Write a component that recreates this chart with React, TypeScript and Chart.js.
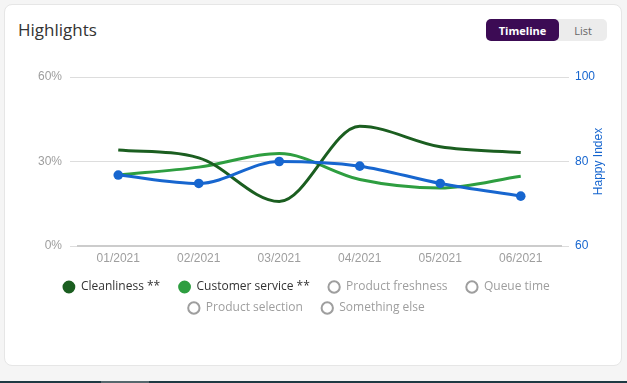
import React, { useEffect, useRef } from "react";
import { Chart, registerables } from "chart.js";

Chart.register(...registerables);

const months = ["01/2021", "02/2021", "03/2021", "04/2021", "05/2021", "06/2021"];
const cleanliness = [34.1, 31.3, 15.8, 42.5, 35.2, 33.2];
const customerService = [25.2, 28.0, 32.8, 23.6, 20.6, 24.8];
const happyIndex = [76.8, 74.8, 80.0, 78.9, 74.8, 71.8];
const hiddenSeries = ["Product freshness", "Queue time", "Product selection", "Something else"];
const leftRange = [0, 60];
const leftStep = 30;
const rightRange = [60, 100];
const rightStep = 20;

const DARK_GREEN = "#1b5e20";
const GREEN = "#2e9e40";
const BLUE = "#1766cf";
const GRAY_TXT = "#9e9e9e";

const rightTitlePlugin = {
  id: "rightTitle",
  afterDraw(chart: any) {
    const s = chart.scales.y1;
    const { ctx, chartArea } = chart;
    ctx.save();
    ctx.translate(s.right - 12, (chartArea.top + chartArea.bottom) / 2);
    ctx.rotate(-Math.PI / 2);
    ctx.font = '12px "Liberation Sans", Arial, sans-serif';
    ctx.fillStyle = BLUE;
    ctx.textAlign = "center";
    ctx.textBaseline = "middle";
    ctx.fillText("Happy Index", 0, 0);
    ctx.restore();
  },
};

function HighlightsChart() {
  const ref = useRef<HTMLCanvasElement | null>(null);
  useEffect(() => {
    if (!ref.current) return;
    const datasets: any[] = [
      {
        label: "Cleanliness **",
        data: cleanliness,
        borderColor: DARK_GREEN,
        backgroundColor: DARK_GREEN,
        borderWidth: 3,
        pointRadius: 0,
        cubicInterpolationMode: "monotone",
        yAxisID: "y",
      },
      {
        label: "Customer service **",
        data: customerService,
        borderColor: GREEN,
        backgroundColor: GREEN,
        borderWidth: 3,
        pointRadius: 0,
        cubicInterpolationMode: "monotone",
        yAxisID: "y",
      },
      ...hiddenSeries.map((name) => ({
        label: name,
        data: [],
        hidden: true,
        borderColor: GRAY_TXT,
        yAxisID: "y",
      })),
      {
        label: "Happy Index",
        data: happyIndex,
        borderColor: BLUE,
        backgroundColor: BLUE,
        borderWidth: 3,
        pointRadius: 4.8,
        pointBorderWidth: 0,
        pointHoverRadius: 4.8,
        cubicInterpolationMode: "monotone",
        yAxisID: "y1",
        order: -1,
      },
    ];
    const chart = new Chart(ref.current, {
      type: "line",
      data: { labels: months, datasets },
      plugins: [rightTitlePlugin],
      options: {
        animation: false,
        responsive: false,
        maintainAspectRatio: false,
        layout: { padding: { top: 17, left: 0, right: 0, bottom: 0 } },
        plugins: {
          tooltip: { enabled: false },
          legend: {
            position: "bottom",
            labels: {
              usePointStyle: true,
              boxHeight: 8,
              padding: 9,
              color: "#333",
              font: { family: '"Open Sans", sans-serif', size: 12 },
              generateLabels: (c: any) =>
                c.data.datasets
                  .map((ds: any, i: number) => {
                    const vis = c.isDatasetVisible(i);
                    return {
                      text: ds.label + "\u00a0\u00a0\u00a0",
                      fillStyle: vis ? ds.borderColor : "rgba(0,0,0,0)",
                      strokeStyle: vis ? ds.borderColor : GRAY_TXT,
                      lineWidth: vis ? 1.5 : 2,
                      hidden: false,
                      fontColor: vis ? "#333" : GRAY_TXT,
                      pointStyle: "circle",
                      datasetIndex: i,
                    };
                  })
                  .filter((l: any) => c.data.datasets[l.datasetIndex].label !== "Happy Index"),
            },
          },
        },
        scales: {
          x: {
            offset: true,
            grid: { display: false, drawTicks: false },
            border: { display: true, color: "#cccccc", width: 2 },
            ticks: {
              color: GRAY_TXT,
              padding: 5,
              maxRotation: 0,
              font: { family: '"Liberation Sans", Arial, sans-serif', size: 12 },
            },
            afterFit: (s: any) => {
              s.height = 26;
            },
          },
          y: {
            position: "left",
            min: leftRange[0],
            max: leftRange[1],
            grid: { color: "#dddddd", tickLength: 8, tickColor: "#dddddd" },
            border: { display: false },
            ticks: {
              stepSize: leftStep,
              color: GRAY_TXT,
              padding: 8,
              font: { family: '"Liberation Sans", Arial, sans-serif', size: 12 },
              callback: (v: any) => v + "%",
            },
            afterFit: (s: any) => {
              s.width = 67;
            },
          },
          y1: {
            position: "right",
            min: rightRange[0],
            max: rightRange[1],
            grid: { drawOnChartArea: false, color: "#dddddd", tickLength: 8, tickColor: "#dddddd" },
            border: { display: false },
            ticks: {
              stepSize: rightStep,
              color: BLUE,
              padding: 6,
              font: { family: '"Liberation Sans", Arial, sans-serif', size: 12 },
            },
            afterFit: (s: any) => {
              s.width = 50;
            },
          },
        },
      } as any,
    });
    return () => chart.destroy();
  }, []);
  return (
    <canvas
      ref={ref}
      width={600}
      height={264}
      style={{ position: "absolute", left: 11, top: 60, width: 600, height: 264 }}
    />
  );
}

export default function App() {
  return (
    <div style={{ position: "fixed", inset: 0, background: "#f5f5f5", overflow: "hidden" }}>
      <div
        style={{
          position: "absolute",
          left: 4,
          top: 4,
          width: 616,
          height: 360,
          background: "#fff",
          border: "1px solid #e6e6e6",
          borderRadius: 8,
        }}
      />
      <div
        style={{
          position: "absolute",
          left: 18,
          top: 18,
          fontFamily: '"Open Sans", sans-serif',
          fontSize: 17,
          color: "#333",
          lineHeight: "24px",
        }}
      >
        Highlights
      </div>
      <div
        style={{
          position: "absolute",
          left: 486,
          top: 19,
          width: 121,
          height: 22,
          background: "#ececec",
          borderRadius: 5,
          display: "flex",
          fontFamily: '"Open Sans", sans-serif',
          fontSize: 11,
        }}
      >
        <div
          style={{
            width: 73,
            height: 22,
            background: "#3c0b54",
            color: "#fff",
            borderRadius: 5,
            fontWeight: 700,
            display: "flex",
            alignItems: "center",
            justifyContent: "center",
          }}
        >
          Timeline
        </div>
        <div
          style={{
            flex: 1,
            color: "#666",
            display: "flex",
            alignItems: "center",
            justifyContent: "center",
          }}
        >
          List
        </div>
      </div>
      <HighlightsChart />
      <div style={{ position: "absolute", left: 0, top: 381, width: 627, height: 2, background: "#1f3a43" }} />
      <div style={{ position: "absolute", left: 101, top: 381, width: 48, height: 2, background: "#56676d" }} />
    </div>
  );
}
